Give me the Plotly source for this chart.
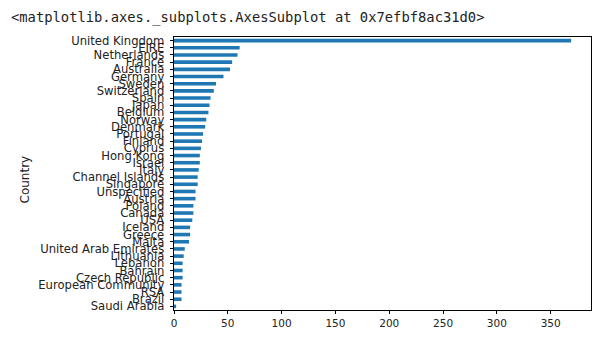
import plotly.graph_objects as go

countries = ["United Kingdom", "EIRE", "Netherlands", "France", "Australia", "Germany",
             "Sweden", "Switzerland", "Spain", "Japan", "Belgium", "Norway", "Denmark",
             "Portugal", "Finland", "Cyprus", "Hong Kong", "Israel", "Italy",
             "Channel Islands", "Singapore", "Unspecified", "Austria", "Poland", "Canada",
             "USA", "Iceland", "Greece", "Malta", "United Arab Emirates", "Lithuania",
             "Lebanon", "Bahrain", "Czech Republic", "European Community", "RSA", "Brazil",
             "Saudi Arabia"]
values = [369, 61, 59, 54, 52, 46, 39, 37, 34, 33, 32, 30, 29, 27, 26, 25, 24, 24, 23,
          22, 22, 20, 20, 18, 18, 17, 15, 15, 14, 10, 9, 8, 8, 8, 7, 7, 7, 2]
x_ticks = [0, 50, 100, 150, 200, 250, 300, 350]

W, H = 604, 343
L, R, T, B = 174, 13, 37, 33
PW, PH = W - L - R, H - T - B

def px(x):
    return (x - L) / PW

def py(y):
    return (H - B - y) / PH

fig = go.Figure(go.Bar(
    x=values, y=countries, orientation="h", width=0.5,
    marker=dict(color="#1f77b4", line=dict(width=0)),
))

axis_common = dict(
    showline=True, linecolor="black", linewidth=0.8, mirror=True,
    ticks="outside", ticklen=3.5, tickwidth=0.8, tickcolor="black",
    showgrid=False, zeroline=False,
)

fig.update_layout(
    width=W, height=H,
    margin=dict(l=L, r=R, t=T, b=B, pad=0),
    paper_bgcolor="white", plot_bgcolor="white",
    showlegend=False,
    xaxis=dict(range=[0, max(values) * 1.05], tickmode="array", tickvals=x_ticks,
               tickfont=dict(family="DejaVu Sans", size=10.5, color="#222"),
               **axis_common),
    yaxis=dict(type="category", range=[len(countries) - 0.5, -0.5],
               tickmode="array", tickvals=countries, ticktext=countries,
               tickfont=dict(family="DejaVu Sans", size=11.6, color="#222"),
               ticklabelstandoff=3,
               **axis_common),
    annotations=[
        dict(text="<matplotlib.axes._subplots.AxesSubplot at 0x7efbf8ac31d0>".replace("<", "&lt;").replace(">", "&gt;"),
             xref="paper", yref="paper", x=px(9), y=py(17), xanchor="left", yanchor="middle",
             showarrow=False, font=dict(family="DejaVu Sans Mono", size=13.8, color="#222")),
        dict(text="Country", xref="paper", yref="paper", x=px(24.5), y=py(180),
             xanchor="center", yanchor="middle", textangle=-90, showarrow=False,
             font=dict(family="DejaVu Sans", size=12, color="#222")),
    ],
)

fig.write_html("out.html")
